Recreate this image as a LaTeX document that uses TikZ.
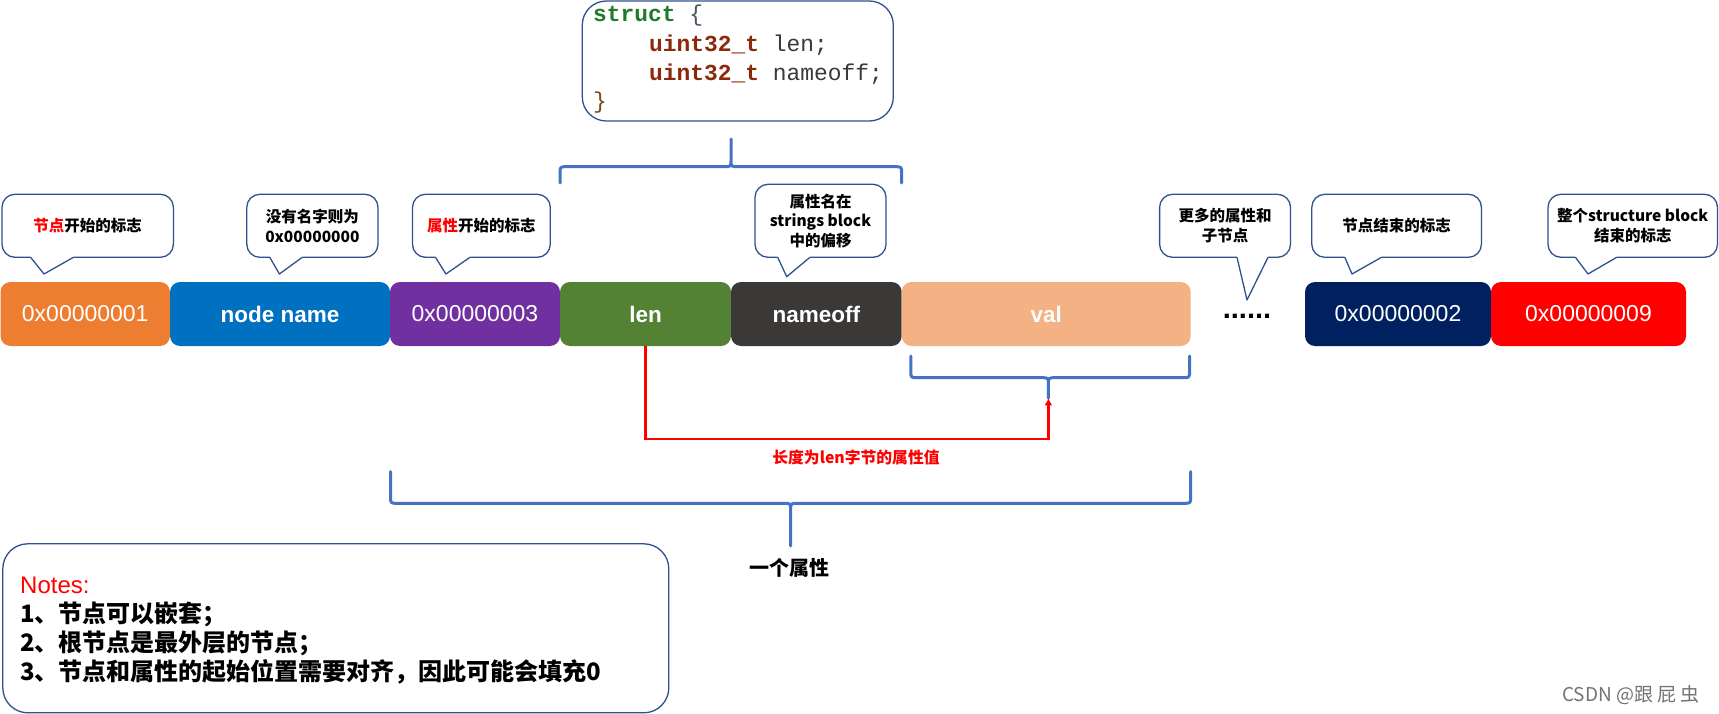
\documentclass[tikz,border=0pt]{standalone}
\usepackage{fontspec}
\setmainfont{Liberation Sans}
\newfontfamily\cjk{Noto Sans CJK SC}
\newfontfamily\codefont{Liberation Mono}
\usetikzlibrary{arrows.meta}
\definecolor{orangeC}{HTML}{ED7D31}
\definecolor{blueC}{HTML}{0070C0}
\definecolor{purpleC}{HTML}{7030A0}
\definecolor{greenC}{HTML}{548235}
\definecolor{darkC}{HTML}{3B3838}
\definecolor{valC}{HTML}{F4B183}
\definecolor{navyC}{HTML}{002060}
\definecolor{redC}{HTML}{FF0000}
\definecolor{braceC}{HTML}{4472C4}
\definecolor{cborder}{HTML}{2F528F}
\definecolor{kwgreen}{HTML}{1F7A2C}
\definecolor{kwred}{HTML}{8B2A0A}
\definecolor{codegray}{HTML}{3A3A3A}
\definecolor{bracegray}{HTML}{4A5566}
\definecolor{codebrown}{HTML}{7A4A1E}
\tikzset{
  rowbox/.style={rounded corners=10pt, inner sep=0pt, minimum height=64pt, text=white},
  hexlbl/.style={font=\fontsize{23}{27}\selectfont},
  wordlbl/.style={font=\bfseries\fontsize{22.5}{27}\selectfont},
  cbox/.style={draw=cborder, line width=1.3pt, fill=white, rounded corners=13pt, inner sep=0pt,
    align=center, font=\cjk\bfseries\fontsize{15.5}{19.5}\selectfont},
  tailline/.style={draw=cborder, line width=1.3pt, line join=round},
  bracep/.style={draw=braceC, line width=3pt, line cap=round, line join=round},
  codeln/.style={anchor=base west, inner sep=0pt, font=\codefont\fontsize{22.9}{29.5}\selectfont, text=codegray},
  noteln/.style={anchor=west, inner sep=0pt, font=\cjk\bfseries\fontsize{24}{29}\selectfont},
  redarr/.style={draw=redC, line width=2.2pt, -{Latex[length=7pt,width=8pt]}},
}
\newcommand\rbox[6]{\node[rowbox, fill=#2, minimum width={(#4-#3)*1pt}, #5] (#1) at ({(#3+#4)/2},314) {#6};}
\newcommand\callout[9]{%
  \node[cbox, minimum width={(#4-#2)*1pt}, minimum height={(#5-#3)*1pt}] (#1) at ({(#2+#4)/2},{(#3+#5)/2}) {#9};
  \fill[white] ({#6},{#5-3}) -- ({#6},{#5}) -- (#8) -- ({#7},{#5}) -- ({#7},{#5-3}) -- cycle;
  \draw[tailline] ({#6},{#5}) -- (#8) -- ({#7},{#5});
}
\newcommand\hbrace[6]{%
  \pgfmathsetmacro\re{(#4>#5) ? 7 : -7}%
  \draw[bracep] (#1,#4) -- (#1,{#5+\re}) .. controls (#1,#5) .. ({#1+7},#5) -- ({#3-7},#5)
    .. controls (#3,#5) .. (#3,{#5-\re}) -- (#3,#6) -- (#3,{#5-\re})
    .. controls (#3,#5) .. ({#3+7},#5) -- ({#2-7},#5) .. controls (#2,#5) .. (#2,{#5+\re}) -- (#2,#4);
}
\begin{document}
\begin{tikzpicture}[x=1pt,y=-1pt]
\useasboundingbox (0,0) rectangle (1719,714);
\fill[white] (0,0) rectangle (1719,714);

% struct box
\node[draw=cborder, line width=1.3pt, rounded corners=24pt, minimum width=311pt, minimum height=120pt, inner sep=0pt] (st) at (737.8,61) {};
\node[codeln] (s1) at (593,22) {\textcolor{kwgreen}{\bfseries struct} \textcolor{bracegray}{\{}};
\node[codeln] (s2) at (649,51.5) {\textcolor{kwred}{\bfseries uint32\_t} len;};
\node[codeln] (s3) at (649,81) {\textcolor{kwred}{\bfseries uint32\_t} nameoff;};
\node[codeln, text=codebrown] (s4) at (593,109) {\}};

% braces
\hbrace{560}{901.7}{731}{183}{166.7}{139}
\hbrace{910.8}{1189.6}{1048.4}{356}{377.7}{398.3}
\hbrace{390.5}{1190.7}{790.6}{471.7}{503.3}{546}
\coordinate (vtip) at (1048.4,398.3);

% row of boxes
\rbox{b1}{orangeC}{0.5}{170}{hexlbl}{0x00000001}
\rbox{b2}{blueC}{170}{390}{wordlbl}{node name}
\rbox{b3}{purpleC}{390}{560}{hexlbl}{0x00000003}
\rbox{len}{greenC}{560}{731}{wordlbl}{len}
\rbox{nameoff}{darkC}{731}{901.7}{wordlbl}{nameoff}
\rbox{val}{valC}{901.7}{1190.7}{wordlbl}{val}
\rbox{b7}{navyC}{1305}{1491}{hexlbl}{0x00000002}
\rbox{b8}{redC}{1491}{1686}{hexlbl}{0x00000009}
\node[anchor=base, inner sep=0pt, font=\bfseries\fontsize{29}{30}\selectfont] (dots) at (1247,318.5) {......};

% callouts
\callout{c1}{2}{194.3}{173.4}{257.3}{30.6}{73.5}{44,274}{\textcolor{redC}{节点}开始的标志}
\callout{c2}{246.8}{194.3}{378}{257.3}{269.8}{302.3}{279.4,274}{没有名字则为\\0x00000000}
\callout{c3}{412.5}{194.3}{550.3}{257.3}{435.5}{470}{445.9,274}{\textcolor{redC}{属性}开始的标志}
\callout{c4}{755}{184.3}{886}{257.3}{777.7}{810}{786.7,276.7}{属性名在\\strings block\\中的偏移}
\callout{c5}{1159.6}{194.3}{1290.5}{257.3}{1237}{1268}{1247,300}{更多的属性和\\子节点}
\callout{c6}{1311.8}{194.3}{1481.4}{257.3}{1344.8}{1381.5}{1352,274}{节点结束的标志}
\callout{c7}{1548}{194.3}{1717.5}{257.3}{1575.4}{1616.7}{1588,274}{整个structure block\\结束的标志}

% red arrow
\draw[redarr] (len.south) -- ++(0,93) -| (vtip);
\node[font=\cjk\bfseries\fontsize{15.8}{19}\selectfont, text=redC] (lenlbl) at (856,457) {长度为len字节的属性值};

% one attribute label
\node[font=\cjk\bfseries\fontsize{20}{24}\selectfont] (attr) at (789,568) {一个属性};

% notes
\node[draw=cborder, line width=1.3pt, rounded corners=25pt, minimum width=666pt, minimum height=169pt, inner sep=0pt] (notes) at (335.8,628.3) {};
\node[anchor=west, inner sep=0pt, font=\fontsize{24}{29}\selectfont, text=redC] (n0) at (20,585) {Notes:};
\node[noteln] (n1) at (20,614) {1、节点可以嵌套；};
\node[noteln] (n2) at (20,643.3) {2、根节点是最外层的节点；};
\node[noteln] (n3) at (20,671.7) {3、节点和属性的起始位置需要对齐，因此可能会填充0};

% watermark
\node[font=\cjk\fontsize{19}{22}\selectfont, text=black!55] (wm) at (1631,695) {CSDN @跟 屁 虫};
\end{tikzpicture}
\end{document}
